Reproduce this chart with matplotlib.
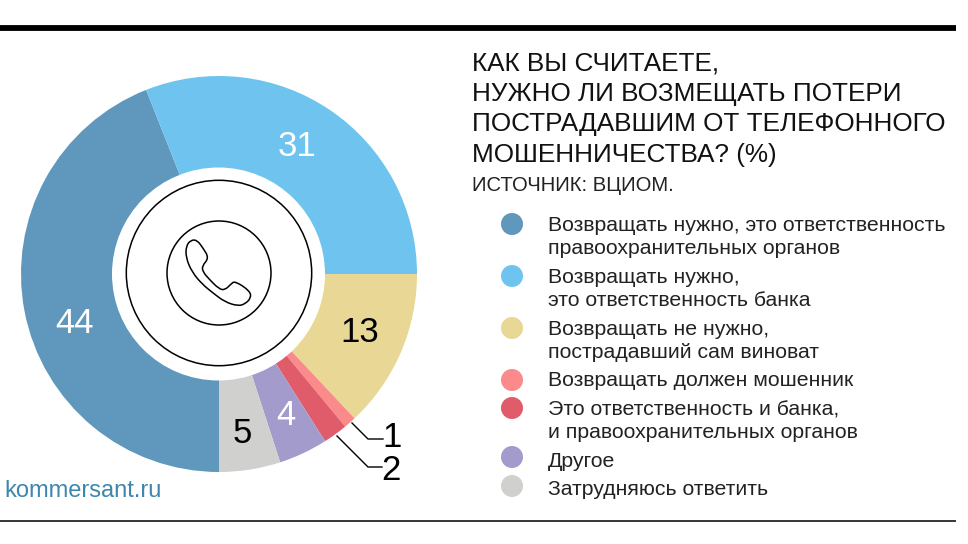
#!/usr/bin/env python3
"""Donut chart: should victims of phone fraud be compensated."""

import matplotlib
matplotlib.use('Agg')
import matplotlib.pyplot as plt
from matplotlib.patches import Circle, PathPatch
from matplotlib.path import Path

W, H = 968, 544

# Clockwise from 3 o'clock
slice_values = [13, 1, 2, 4, 5, 44, 31]
slice_colors = ['#e8d795', '#fb8a8a', '#e05c6b', '#a39bcb', '#d0d0ce', '#5f98bc', '#6ec4ef']

title_lines = [
    'КАК ВЫ СЧИТАЕТЕ,',
    'НУЖНО ЛИ ВОЗМЕЩАТЬ ПОТЕРИ',
    'ПОСТРАДАВШИМ ОТ ТЕЛЕФОННОГО',
    'МОШЕННИЧЕСТВА? (%)',
]
source_text = 'ИСТОЧНИК: ВЦИОМ.'

legend_labels = [
    'Возвращать нужно, это ответственность\nправоохранительных органов',
    'Возвращать нужно,\nэто ответственность банка',
    'Возвращать не нужно,\nпострадавший сам виноват',
    'Возвращать должен мошенник',
    'Это ответственность и банка,\nи правоохранительных органов',
    'Другое',
    'Затрудняюсь ответить',
]
legend_colors = ['#5f98bc', '#6ec4ef', '#e8d795', '#fb8a8a', '#e05c6b', '#a39bcb', '#d0d0ce']
legend_dot_y = [224, 276, 328, 380, 408, 457, 486]
legend_base_y = [231, 283, 335, 386, 415, 467, 495]

plt.rcParams['font.family'] = ['Liberation Sans', 'DejaVu Sans']

fig = plt.figure(figsize=(W / 100, H / 100), dpi=100)

# Pixel-space overlay for everything around the pie
px = fig.add_axes([0, 0, 1, 1], zorder=2)
px.set_xlim(0, W)
px.set_ylim(H, 0)
px.axis('off')
px.patch.set_alpha(0)

# Pie axes: centre (219, 274), radius 198 px
cx, cy, r = 219, 274, 198
pie_ax = fig.add_axes([(cx - r) / W, 1 - (cy + r) / H, 2 * r / W, 2 * r / H], zorder=1)
pie_ax.pie(slice_values, colors=slice_colors, startangle=0, counterclock=False, radius=1,
           wedgeprops={'linewidth': 0})
pie_ax.set_xlim(-1, 1)
pie_ax.set_ylim(-1, 1)

# Centre hole and rings
px.add_patch(Circle((218.5, 274), 106.5, fc='white', ec='none'))
px.add_patch(Circle((219, 273), 92.7, fc='none', ec='black', lw=1.1))
px.add_patch(Circle((219, 273), 52, fc='none', ec='black', lw=1.1))

# Phone icon outline
phone = [(197, 240), (203, 248), (209, 258), (202, 266), (203, 272), (209, 279), (219, 289),
         (225, 290), (231, 284), (235, 281), (250, 291), (251, 298), (245, 304), (238, 306),
         (225, 302), (213, 293), (202, 284), (192, 272), (186, 258), (186, 246), (191, 240)]
mids = [((a[0] + b[0]) / 2, (a[1] + b[1]) / 2) for a, b in zip(phone, phone[1:] + phone[:1])]
verts = [mids[-1]]
codes = [Path.MOVETO]
for p, m in zip(phone, mids):
    verts += [p, m]
    codes += [Path.CURVE3, Path.CURVE3]
px.add_patch(PathPatch(Path(verts, codes), fc='none', ec='black', lw=1.1))

# Slice values
num_size = 25
px.text(297, 156, '31', color='white', fontsize=num_size, ha='center', va='baseline')
px.text(75, 333, '44', color='white', fontsize=num_size, ha='center', va='baseline')
px.text(360, 342, '13', color='black', fontsize=num_size, ha='center', va='baseline')
px.text(242, 443, '5', color='black', fontsize=num_size, ha='center', va='baseline')
px.text(286, 425, '4', color='white', fontsize=num_size, ha='center', va='baseline')
px.text(392, 447, '1', color='black', fontsize=num_size, ha='center', va='baseline')
px.text(391, 480, '2', color='black', fontsize=num_size, ha='center', va='baseline')

# Leader lines
px.plot([352, 368, 383], [423, 439, 439], color='black', lw=1.0)
px.plot([337, 368, 382], [436, 467, 467], color='black', lw=1.0)

# Rules
px.plot([0, 956], [28, 28], color='black', lw=4.2, solid_capstyle='butt')
px.plot([0, 956], [520.7, 520.7], color='black', lw=1.1, solid_capstyle='butt')

# Title and source
for y, line in zip([70, 100.7, 131, 161.7], title_lines):
    px.text(472, y, line, fontsize=18.85, color='#111111', ha='left', va='baseline')
px.text(472, 190.7, source_text, fontsize=14.6, color='#222222', ha='left', va='baseline')

# Legend
for dot_y, base_y, label, color in zip(legend_dot_y, legend_base_y, legend_labels, legend_colors):
    px.add_patch(Circle((512, dot_y), 11, fc=color, ec='none'))
    for i, line in enumerate(label.split('\n')):
        px.text(548, base_y + 23 * i, line, fontsize=15.35, color='#222222', ha='left', va='baseline')

px.text(4, 497, 'kommersant.ru', fontsize=17, color='#3f86ad', ha='left', va='baseline')

fig.savefig('out.png', dpi=100)
plt.close()
